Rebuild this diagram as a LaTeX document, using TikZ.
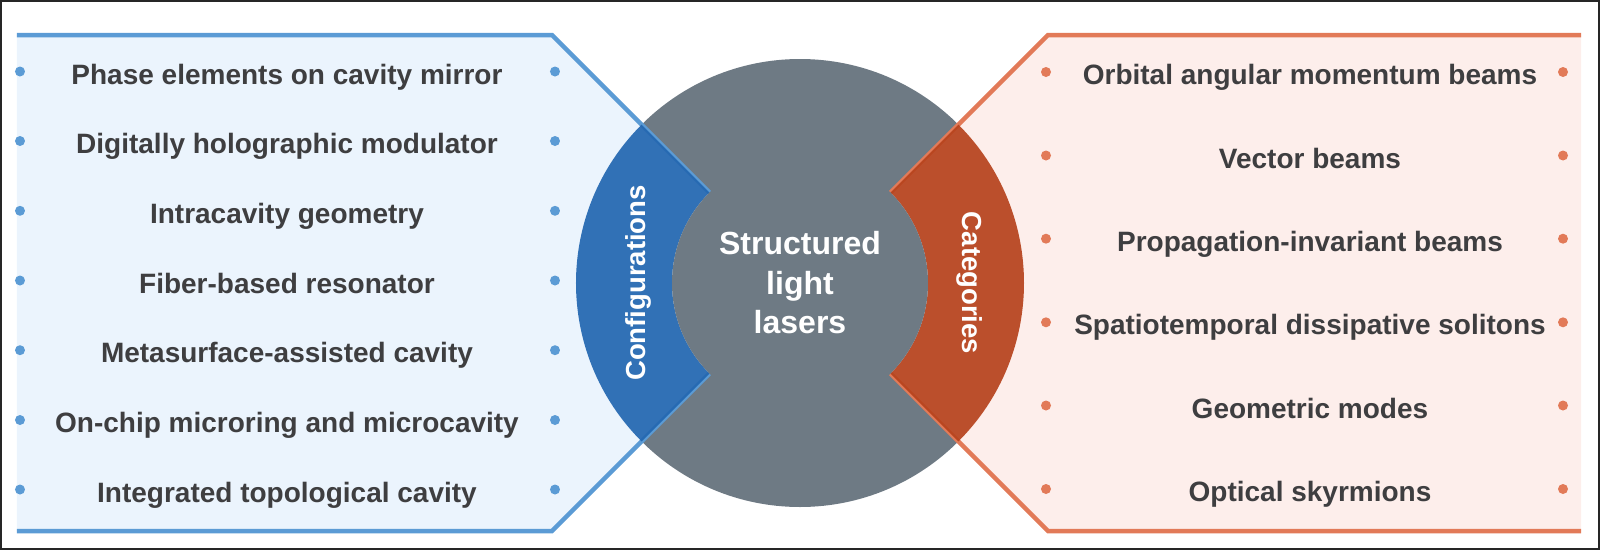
\documentclass[tikz,border=0pt]{standalone}
\usepackage{fontspec}
\setmainfont{Liberation Sans}
\usepackage{xcolor}
\usepackage{tikz}
\usetikzlibrary{calc}
\definecolor{cfgline}{RGB}{91,155,213}
\definecolor{cfgfill}{RGB}{235,244,253}
\definecolor{cfgband}{RGB}{34,102,176}
\definecolor{catline}{RGB}{226,122,88}
\definecolor{catfill}{RGB}{253,238,235}
\definecolor{catband}{RGB}{182,66,28}
\definecolor{hub}{RGB}{110,122,132}
\definecolor{ink}{RGB}{62,62,64}
\tikzset{
    item/.style={font=\bfseries\fontsize{28}{33}\selectfont, text=ink, inner sep=0pt, text height=20pt, text depth=0pt},
    cdot/.style={circle, fill=cfgline, inner sep=0pt, minimum size=10pt},
    kdot/.style={circle, fill=catline, inner sep=0pt, minimum size=10pt},
    bandlbl/.style={font=\bfseries\fontsize{27.5}{32}\selectfont, text=white, inner sep=0pt},
    hubtxt/.style={font=\bfseries\fontsize{32}{39.5}\selectfont, text=white, align=center, inner sep=0pt},
    panel/.style={line width=4.5pt, line join=miter},
    lyt/.style={x=1pt, y=1pt}
}

\begin{document}
\begin{tikzpicture}[lyt]
            \useasboundingbox (-800,-267) rectangle (800,283);
            \draw[line width=2pt, black!85] (-799,-266) rectangle (799,282);

            \coordinate (c) at (0,0);
            \coordinate (lt) at (-248,248);
            \coordinate (lb) at (-248,-248);
            \coordinate (rt) at (248,248);
            \coordinate (rb) at (248,-248);

            \fill[hub] (c) circle[radius=224pt];
            \path[panel, fill=cfgfill, draw=cfgline] (-783,248) -- (lt) -- (c) -- (lb) -- (-783,-248);
            \path[panel, fill=catfill, draw=catline] (781,248) -- (rt) -- (c) -- (rb) -- (781,-248);
            \fill[cfgband, opacity=0.92] (135:224pt) arc[start angle=135, end angle=225, radius=224pt]
                -- (225:128pt) arc[start angle=225, end angle=135, radius=128pt] -- cycle;
            \fill[catband, opacity=0.92] (45:224pt) arc[start angle=45, end angle=-45, radius=224pt]
                -- (-45:128pt) arc[start angle=-45, end angle=45, radius=128pt] -- cycle;
            \fill[hub] (c) circle[radius=128pt];

            \node[hubtxt] (core) at (c) {Structured\\light\\lasers};
            \node[bandlbl, rotate=90] (cfg) at (-162,0) {Configurations};
            \node[bandlbl, rotate=-90] (cat) at (170,0) {Categories};

            % configurations
            \node[item] (cf1) at (-513,209) {Phase elements on cavity mirror};
            \node[item] (cf2) at (-513,139.5) {Digitally holographic modulator};
            \node[item] (cf3) at (-513,69.7) {Intracavity geometry};
            \node[item] (cf4) at (-513,0) {Fiber-based resonator};
            \node[item] (cf5) at (-513,-69.7) {Metasurface-assisted cavity};
            \node[item] (cf6) at (-513,-139.5) {On-chip microring and microcavity};
            \node[item] (cf7) at (-513,-209) {Integrated topological cavity};
            \node[cdot] (cf1a) at (-780,211.5) {}; \node[cdot] (cf1b) at (-245,211.5) {};
            \node[cdot] (cf2a) at (-780,142) {}; \node[cdot] (cf2b) at (-245,142) {};
            \node[cdot] (cf3a) at (-780,72.2) {}; \node[cdot] (cf3b) at (-245,72.2) {};
            \node[cdot] (cf4a) at (-780,2.5) {}; \node[cdot] (cf4b) at (-245,2.5) {};
            \node[cdot] (cf5a) at (-780,-67.2) {}; \node[cdot] (cf5b) at (-245,-67.2) {};
            \node[cdot] (cf6a) at (-780,-137) {}; \node[cdot] (cf6b) at (-245,-137) {};
            \node[cdot] (cf7a) at (-780,-206.5) {}; \node[cdot] (cf7b) at (-245,-206.5) {};

            % categories
            \node[item] (ct1) at (510,208.5) {Orbital angular momentum beams};
            \node[item] (ct2) at (510,125) {Vector beams};
            \node[item] (ct3) at (510,41.8) {Propagation-invariant beams};
            \node[item] (ct4) at (510,-41.8) {Spatiotemporal dissipative solitons};
            \node[item] (ct5) at (510,-125) {Geometric modes};
            \node[item] (ct6) at (510,-208.5) {Optical skyrmions};
            \node[kdot] (ct1a) at (246,211) {}; \node[kdot] (ct1b) at (763,211) {};
            \node[kdot] (ct2a) at (246,127.5) {}; \node[kdot] (ct2b) at (763,127.5) {};
            \node[kdot] (ct3a) at (246,44.3) {}; \node[kdot] (ct3b) at (763,44.3) {};
            \node[kdot] (ct4a) at (246,-39.3) {}; \node[kdot] (ct4b) at (763,-39.3) {};
            \node[kdot] (ct5a) at (246,-122.5) {}; \node[kdot] (ct5b) at (763,-122.5) {};
            \node[kdot] (ct6a) at (246,-206) {}; \node[kdot] (ct6b) at (763,-206) {};
        \end{tikzpicture}
\end{document}
